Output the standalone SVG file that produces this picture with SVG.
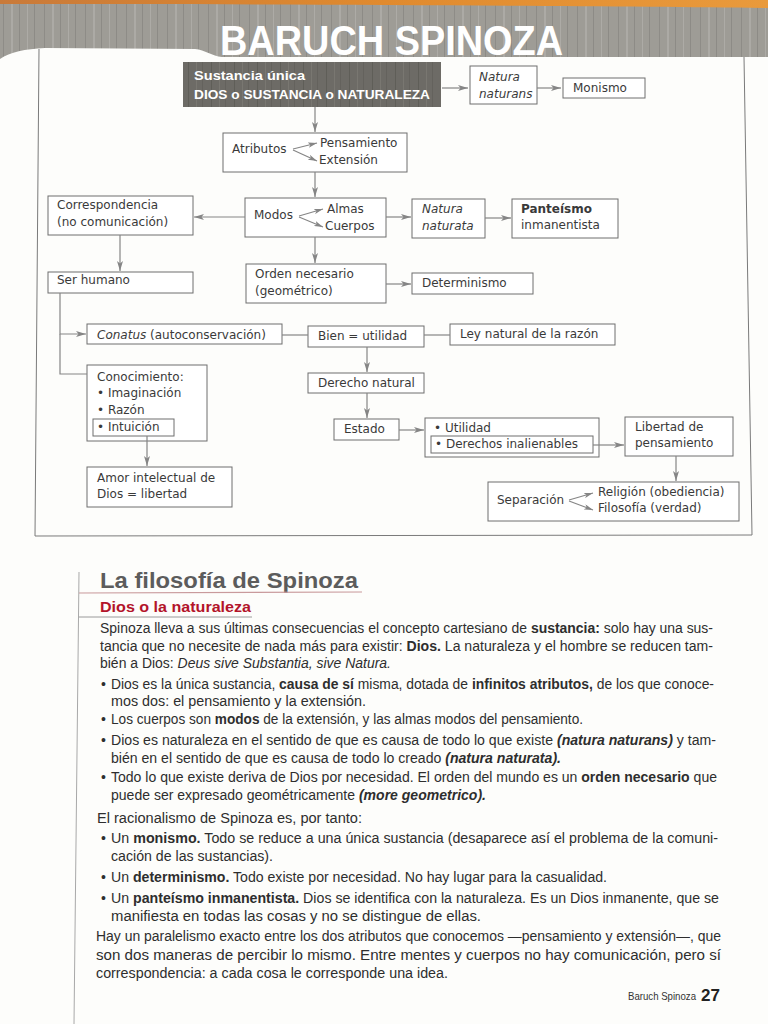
<svg xmlns="http://www.w3.org/2000/svg" width="768" height="1024" viewBox="0 0 768 1024">
<defs>
<style>
.box{fill:#fff;stroke:#6e6e6e;stroke-width:1}
.t{font-family:"DejaVu Sans",sans-serif;font-size:12px;fill:#3a3a3a}
.i{font-style:italic}
.b{font-weight:bold}
.c{stroke:#858585;stroke-width:1.2;fill:none}
.a{marker-end:url(#arr)}
.f{stroke:#858585;stroke-width:1.1;fill:none;marker-end:url(#arrs)}
.body{font-family:"Liberation Sans",Arial,sans-serif;font-size:14px;fill:#2e2e2e}
</style>
<marker id="arr" viewBox="0 0 10 6" refX="10" refY="3" markerWidth="10" markerHeight="6" markerUnits="userSpaceOnUse" orient="auto">
<path d="M0,0 L10,3 L0,6 L2.5,3 Z" fill="#858585"/>
</marker>
<marker id="arrs" viewBox="0 0 10 6" refX="10" refY="3" markerWidth="9" markerHeight="5.5" markerUnits="userSpaceOnUse" orient="auto">
<path d="M0,0 L10,3 L0,6 L2.5,3 Z" fill="#858585"/>
</marker>
<pattern id="streak" width="41" height="60" patternUnits="userSpaceOnUse">
<rect width="41" height="60" fill="#9e9c96"/>
<rect x="3" width="1" height="60" fill="#84827d" opacity="0.6"/>
<rect x="11" width="2" height="60" fill="#b3b1ab" opacity="0.7"/>
<rect x="19" width="1" height="60" fill="#7c7a75" opacity="0.5"/>
<rect x="27" width="1" height="60" fill="#b8b6b0" opacity="0.6"/>
<rect x="34" width="1" height="60" fill="#82807b" opacity="0.6"/>
</pattern>
<pattern id="darkstreak" width="23" height="50" patternUnits="userSpaceOnUse">
<rect width="23" height="50" fill="#6d6b66"/>
<rect x="4" width="1" height="50" fill="#5a5853" opacity="0.7"/>
<rect x="12" width="1" height="50" fill="#7c7a74" opacity="0.8"/>
<rect x="18" width="1" height="50" fill="#5e5c57" opacity="0.6"/>
</pattern>
<linearGradient id="orange" x1="0" y1="0" x2="1" y2="0">
<stop offset="0" stop-color="#c97a3a"/>
<stop offset="0.5" stop-color="#e08a2e"/>
<stop offset="1" stop-color="#e99a3c"/>
</linearGradient>
</defs>

<rect width="768" height="1024" fill="#fdfdfb"/>

<g id="header">
<rect x="0" y="0" width="768" height="62" fill="url(#streak)"/>
<path d="M0,0 H768 V8 C600,6 300,4 0,4 Z" fill="url(#orange)"/>
<path d="M0,59 C10,52 25,49 45,48 L195,49 C205,50 212,56 222,57 L768,57 V1024 H0 Z" fill="#fdfdfb"/>
<text x="220" y="55" font-family="Liberation Sans,Arial,sans-serif" font-weight="bold" font-size="42" fill="#ffffff" textLength="343" lengthAdjust="spacingAndGlyphs">BARUCH SPINOZA</text>
</g>

<g id="frame" stroke="#7a7a7a" stroke-width="1" fill="none">
<path d="M39,49 L35,536 L752,535 L744,57"/>
</g>

<g id="sustancia">
<rect x="183" y="62" width="258" height="45" fill="url(#darkstreak)"/>
<text x="194" y="80" font-family="Liberation Sans,Arial,sans-serif" font-weight="bold" font-size="13" fill="#fff" textLength="111" lengthAdjust="spacingAndGlyphs">Sustancia única</text>
<text x="194" y="99" font-family="Liberation Sans,Arial,sans-serif" font-weight="bold" font-size="13" fill="#fff" textLength="236" lengthAdjust="spacingAndGlyphs">DIOS o SUSTANCIA o NATURALEZA</text>
</g>
<g id="naturans">
<rect class="box" x="470" y="66" width="67" height="38"/>
<text class="t i" x="479" y="81">Natura</text>
<text class="t i" x="479" y="98">naturans</text>
</g>
<g id="monismo">
<rect class="box" x="563" y="78" width="82" height="20"/>
<text class="t" x="573" y="92">Monismo</text>
</g>
<g id="atributos">
<rect class="box" x="223" y="133" width="184" height="39"/>
<text class="t" x="232" y="153">Atributos</text>
<text class="t" x="320" y="147">Pensamiento</text>
<text class="t" x="319" y="164">Extensión</text>
</g>
<g id="modos">
<rect class="box" x="245" y="198" width="141" height="39"/>
<text class="t" x="254" y="219">Modos</text>
<text class="t" x="327" y="213">Almas</text>
<text class="t" x="325" y="230">Cuerpos</text>
</g>
<g id="correspondencia">
<rect class="box" x="48" y="196" width="145" height="39"/>
<text class="t" x="57" y="209">Correspondencia</text>
<text class="t" x="57" y="226">(no comunicación)</text>
</g>
<g id="naturata">
<rect class="box" x="412" y="199" width="73" height="39"/>
<text class="t i" x="422" y="213">Natura</text>
<text class="t i" x="422" y="230">naturata</text>
</g>
<g id="panteismo">
<rect class="box" x="512" y="199" width="106" height="39"/>
<text class="t b" x="521" y="213">Panteísmo</text>
<text class="t" x="521" y="229">inmanentista</text>
</g>
<g id="serhumano">
<rect class="box" x="48" y="272" width="145" height="21"/>
<text class="t" x="57" y="284">Ser humano</text>
</g>
<g id="orden">
<rect class="box" x="246" y="264" width="140" height="39"/>
<text class="t" x="255" y="278">Orden necesario</text>
<text class="t" x="255" y="295">(geométrico)</text>
</g>
<g id="determinismo">
<rect class="box" x="412" y="273" width="121" height="21"/>
<text class="t" x="422" y="287">Determinismo</text>
</g>
<g id="conatus">
<rect class="box" x="87" y="324" width="195" height="20"/>
<text class="t" x="97" y="339"><tspan class="i">Conatus</tspan> (autoconservación)</text>
</g>
<g id="bien">
<rect class="box" x="308" y="326" width="116" height="21"/>
<text class="t" x="318" y="340">Bien = utilidad</text>
</g>
<g id="ley">
<rect class="box" x="450" y="324" width="165" height="21"/>
<text class="t" x="460" y="338">Ley natural de la razón</text>
</g>
<g id="derecho">
<rect class="box" x="308" y="373" width="116" height="20"/>
<text class="t" x="318" y="387">Derecho natural</text>
</g>
<g id="conocimiento">
<rect class="box" x="87" y="365" width="120" height="76"/>
<text class="t" x="97" y="381">Conocimiento:</text>
<text class="t" x="97" y="397">• Imaginación</text>
<text class="t" x="97" y="414">• Razón</text>
<rect class="box" x="93" y="419" width="81" height="17"/>
<text class="t" x="97" y="431">• Intuición</text>
</g>
<g id="estado">
<rect class="box" x="334" y="419" width="65" height="21"/>
<text class="t" x="344" y="433">Estado</text>
</g>
<g id="utilidad">
<rect class="box" x="425" y="418" width="174" height="39"/>
<text class="t" x="434" y="432">• Utilidad</text>
<rect class="box" x="431" y="436" width="162" height="17"/>
<text class="t" x="435" y="448">• Derechos inalienables</text>
</g>
<g id="libertad">
<rect class="box" x="625" y="417" width="108" height="39"/>
<text class="t" x="635" y="431">Libertad de</text>
<text class="t" x="635" y="447">pensamiento</text>
</g>
<g id="amor">
<rect class="box" x="87" y="467" width="145" height="40"/>
<text class="t" x="97" y="482">Amor intelectual de</text>
<text class="t" x="97" y="498">Dios = libertad</text>
</g>
<g id="separacion">
<rect class="box" x="488" y="482" width="251" height="39"/>
<text class="t" x="497" y="504">Separación</text>
<text class="t" x="598" y="496">Religión (obediencia)</text>
<text class="t" x="598" y="512">Filosofía (verdad)</text>
</g>

<g id="connectors">
<line class="c a" x1="442" y1="88" x2="468" y2="88"/>
<line class="c a" x1="537" y1="88" x2="561" y2="88"/>
<line class="c a" x1="315" y1="107" x2="315" y2="132"/>
<line class="c a" x1="315" y1="172" x2="315" y2="197"/>
<line class="c a" x1="245" y1="217" x2="194" y2="217"/>
<line class="c a" x1="386" y1="217" x2="411" y2="217"/>
<line class="c a" x1="485" y1="218" x2="511" y2="218"/>
<line class="c a" x1="120" y1="235" x2="120" y2="271"/>
<line class="c a" x1="315" y1="237" x2="315" y2="263"/>
<line class="c a" x1="386" y1="284" x2="411" y2="284"/>
<polyline class="c a" points="60,293 60,334 86,334"/>
<polyline class="c" points="60,334 60,374 87,374"/>
<line class="c" x1="282" y1="335" x2="308" y2="335"/>
<line class="c" x1="424" y1="335" x2="450" y2="335"/>
<line class="c a" x1="367" y1="347" x2="367" y2="372"/>
<line class="c a" x1="367" y1="393" x2="367" y2="418"/>
<line class="c a" x1="399" y1="430" x2="424" y2="430"/>
<line class="c a" x1="593" y1="445" x2="624" y2="445"/>
<line class="c a" x1="676" y1="456" x2="676" y2="481"/>
<line class="c a" x1="147" y1="436" x2="147" y2="466"/>
<line class="f" x1="293" y1="149" x2="317" y2="143"/>
<line class="f" x1="293" y1="150" x2="317" y2="161"/>
<line class="f" x1="299" y1="216" x2="323" y2="209"/>
<line class="f" x1="299" y1="217" x2="323" y2="227"/>
<line class="f" x1="569" y1="500" x2="593" y2="493"/>
<line class="f" x1="569" y1="501" x2="593" y2="510"/>
</g>

<g id="textpage">
<path d="M79,572 L74,1024" stroke="#a8a8a8" stroke-width="1"/>
<text x="100" y="588" font-family="Liberation Sans,Arial,sans-serif" font-weight="bold" font-size="22" fill="#5c5c5c" textLength="258" lengthAdjust="spacingAndGlyphs">La filosofía de Spinoza</text>
<line x1="79" y1="593" x2="362" y2="592" stroke="#c99a9c" stroke-width="1.2"/>
<text x="100" y="612" font-family="Liberation Sans,Arial,sans-serif" font-weight="bold" font-size="15" fill="#b3142a" textLength="151" lengthAdjust="spacingAndGlyphs">Dios o la naturaleza</text>
<line x1="79" y1="617" x2="252" y2="617" stroke="#9a9a9a" stroke-width="1"/>

<g class="body">
<text x="100" y="633" textLength="613" lengthAdjust="spacingAndGlyphs">Spinoza lleva a sus últimas consecuencias el concepto cartesiano de <tspan class="b">sustancia:</tspan> solo hay una sus-</text>
<text x="100" y="651" textLength="613" lengthAdjust="spacingAndGlyphs">tancia que no necesite de nada más para existir: <tspan class="b">Dios.</tspan> La naturaleza y el hombre se reducen tam-</text>
<text x="100" y="668" textLength="291" lengthAdjust="spacingAndGlyphs">bién a Dios: <tspan class="i">Deus sive Substantia, sive Natura.</tspan></text>
<text x="101" y="689">•</text>
<text x="111" y="689" textLength="603" lengthAdjust="spacingAndGlyphs">Dios es la única sustancia, <tspan class="b">causa de sí</tspan> misma, dotada de <tspan class="b">infinitos atributos,</tspan> de los que conoce-</text>
<text x="111" y="706" textLength="255" lengthAdjust="spacingAndGlyphs">mos dos: el pensamiento y la extensión.</text>
<text x="101" y="724">•</text>
<text x="111" y="724" textLength="472" lengthAdjust="spacingAndGlyphs">Los cuerpos son <tspan class="b">modos</tspan> de la extensión, y las almas modos del pensamiento.</text>
<text x="101" y="745">•</text>
<text x="111" y="745" textLength="605" lengthAdjust="spacingAndGlyphs">Dios es naturaleza en el sentido de que es causa de todo lo que existe <tspan class="b i">(natura naturans)</tspan> y tam-</text>
<text x="111" y="763" textLength="450" lengthAdjust="spacingAndGlyphs">bién en el sentido de que es causa de todo lo creado <tspan class="b i">(natura naturata).</tspan></text>
<text x="101" y="782">•</text>
<text x="111" y="782" textLength="606" lengthAdjust="spacingAndGlyphs">Todo lo que existe deriva de Dios por necesidad. El orden del mundo es un <tspan class="b">orden necesario</tspan> que</text>
<text x="111" y="800" textLength="375" lengthAdjust="spacingAndGlyphs">puede ser expresado geométricamente <tspan class="b i">(more geometrico).</tspan></text>
<text x="97" y="823" textLength="265" lengthAdjust="spacingAndGlyphs">El racionalismo de Spinoza es, por tanto:</text>
<text x="101" y="843">•</text>
<text x="111" y="843" textLength="607" lengthAdjust="spacingAndGlyphs">Un <tspan class="b">monismo.</tspan> Todo se reduce a una única sustancia (desaparece así el problema de la comuni-</text>
<text x="111" y="861" textLength="162" lengthAdjust="spacingAndGlyphs">cación de las sustancias).</text>
<text x="101" y="882">•</text>
<text x="111" y="882" textLength="496" lengthAdjust="spacingAndGlyphs">Un <tspan class="b">determinismo.</tspan> Todo existe por necesidad. No hay lugar para la casualidad.</text>
<text x="101" y="903">•</text>
<text x="111" y="903" textLength="608" lengthAdjust="spacingAndGlyphs">Un <tspan class="b">panteísmo inmanentista.</tspan> Dios se identifica con la naturaleza. Es un Dios inmanente, que se</text>
<text x="111" y="921" textLength="370" lengthAdjust="spacingAndGlyphs">manifiesta en todas las cosas y no se distingue de ellas.</text>
<text x="96" y="941" textLength="625" lengthAdjust="spacingAndGlyphs">Hay un paralelismo exacto entre los dos atributos que conocemos —pensamiento y extensión—, que</text>
<text x="96" y="960" textLength="625" lengthAdjust="spacingAndGlyphs">son dos maneras de percibir lo mismo. Entre mentes y cuerpos no hay comunicación, pero sí</text>
<text x="96" y="978" textLength="352" lengthAdjust="spacingAndGlyphs">correspondencia: a cada cosa le corresponde una idea.</text>
</g>
<text x="628" y="1000" font-family="Liberation Sans,Arial,sans-serif" font-size="10.5" fill="#333" textLength="68" lengthAdjust="spacingAndGlyphs">Baruch Spinoza</text>
<text x="701" y="1001" font-family="Liberation Sans,Arial,sans-serif" font-weight="bold" font-size="17" fill="#222">27</text>
</g>
</svg>
